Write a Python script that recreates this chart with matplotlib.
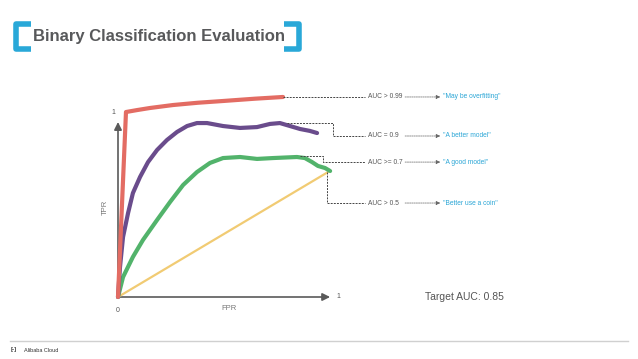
import matplotlib.pyplot as plt
from matplotlib.lines import Line2D
from matplotlib.patches import FancyArrowPatch

plt.rcParams['font.family'] = ['Liberation Sans', 'DejaVu Sans']

# ROC sketch curves (FPR, TPR)
red_fpr = [0.0, 0.038, 0.09, 0.152, 0.262, 0.38, 0.5, 0.65, 0.786]
red_tpr = [0.0, 1.057, 1.068, 1.08, 1.097, 1.11, 1.12, 1.133, 1.143]

purple_fpr = [0.0, 0.0095, 0.024, 0.048, 0.071, 0.105, 0.143, 0.186, 0.233, 0.281,
              0.329, 0.376, 0.424, 0.5, 0.581, 0.662, 0.724, 0.771, 0.819, 0.867,
              0.914, 0.948]
purple_tpr = [0.0, 0.171, 0.343, 0.48, 0.594, 0.686, 0.771, 0.84, 0.897, 0.943,
              0.977, 0.994, 0.994, 0.977, 0.966, 0.971, 0.989, 0.994, 0.977, 0.96,
              0.949, 0.937]

green_fpr = [0.0, 0.024, 0.071, 0.119, 0.186, 0.248, 0.31, 0.376, 0.438, 0.5,
             0.581, 0.662, 0.738, 0.852, 0.89, 0.924, 0.952, 0.986, 1.01]
green_tpr = [0.0, 0.114, 0.229, 0.326, 0.44, 0.543, 0.64, 0.714, 0.766, 0.794,
             0.8, 0.789, 0.794, 0.8, 0.794, 0.771, 0.749, 0.737, 0.72]

yellow_fpr = [0.0, 1.0]
yellow_tpr = [0.0, 0.714]

auc_labels = ["AUC > 0.99", "AUC = 0.9", "AUC >= 0.7", "AUC > 0.5"]
verdicts = ['"May be overfitting"', '"A better model"', '"A good model"', '"Better use a coin"']
# dashed connector paths (x list, y list) in the same FPR/TPR units
conn_x = [[0.786, 1.176], [0.805, 1.024, 1.024, 1.176],
          [0.867, 0.976, 0.976, 1.176], [0.995, 0.995, 1.176]]
conn_y = [[1.143, 1.143], [0.994, 0.994, 0.92, 0.92],
          [0.806, 0.806, 0.771, 0.771], [0.714, 0.537, 0.537]]

W, H = 638, 359
X0, Y0, SX, SY = 118, 297, 210, 175

fig = plt.figure(figsize=(W / 100, H / 100), dpi=100)
ax = fig.add_axes([0, 0, 1, 1])
ax.set_xlim(-X0 / SX, (W - X0) / SX)
ax.set_ylim((Y0 - H) / SY, Y0 / SY)
ax.axis('off')

def fx(x, y):
    return (x / W, 1 - y / H)

# axes arrows
axis_col = '#5a5a5a'
for end in [(1.01, 0), (0, 1.0)]:
    ax.add_patch(FancyArrowPatch((0, 0), end, arrowstyle='-|>,head_length=3,head_width=1.5',
                                 color=axis_col, lw=1.2, mutation_scale=1.5, shrinkA=0, shrinkB=0))

ax.plot(yellow_fpr, yellow_tpr, color='#f1cb73', lw=1.6, solid_capstyle='round')
ax.plot(green_fpr, green_tpr, color='#52b36b', lw=3.0, solid_capstyle='round', solid_joinstyle='round')
ax.plot(purple_fpr, purple_tpr, color='#6a4c8c', lw=3.0, solid_capstyle='round', solid_joinstyle='round')
ax.plot(red_fpr, red_tpr, color='#e36c63', lw=3.0, solid_capstyle='round', solid_joinstyle='round')

ax.text(-0.02, 1.057, '1', fontsize=5, color='#555555', ha='center', va='center')
ax.text(0.0, -0.075, '0', fontsize=5, color='#555555', ha='center', va='center')
ax.text(1.048, 0.0, '1', fontsize=5, color='#555555', ha='center', va='center')
ax.text(0.528, -0.063, 'FPR', fontsize=5.5, color='#777777', ha='center', va='center')
ax.text(-0.062, 0.51, 'TPR', fontsize=5.5, color='#777777', ha='center', va='center', rotation=90)

for cx, cy, lab, ver in zip(conn_x, conn_y, auc_labels, verdicts):
    ax.plot(cx, cy, color='#444444', lw=0.7, ls=(0, (2, 1.2)))
    yy = cy[-1]
    ax.text(1.19, yy, lab, fontsize=4.8, color='#555555', ha='left', va='center')
    ax.add_patch(FancyArrowPatch((1.367, yy), (1.535, yy), arrowstyle='-|>,head_length=2.5,head_width=1.2',
                                 color='#666666', lw=0.5, ls=(0, (2, 1.2)), shrinkA=0, shrinkB=0))
    ax.text(1.548, yy, ver, fontsize=4.8, color='#2ba6d6', ha='left', va='center')

ax.text(1.462, 0.0, 'Target AUC: 0.85', fontsize=7.5, color='#555555', ha='left', va='center')

# title with blue brackets
fig.text(*fx(33, 37), 'Binary Classification Evaluation', fontsize=12, color='#58595b',
         ha='left', va='center', fontweight='bold')
blue = '#29a8d8'
for xs, ys in [([31, 16, 16, 31], [24, 24, 49, 49]), ([284, 299, 299, 284], [24, 24, 49, 49])]:
    pts = [fx(x, y) for x, y in zip(xs, ys)]
    fig.add_artist(Line2D([p[0] for p in pts], [p[1] for p in pts], color=blue, lw=4,
                          solid_joinstyle='round', solid_capstyle='butt'))

# footer
fig.add_artist(Line2D([10 / W, 628 / W], [1 - 341 / H] * 2, color='#d0d0d0', lw=1))
fig.text(*fx(11, 350), '[-]', fontsize=4.5, color='#333333', ha='left', va='center', fontweight='bold')
fig.text(*fx(24, 350), 'Alibaba Cloud', fontsize=4, color='#333333', ha='left', va='center')

fig.savefig('out.png', dpi=100)
